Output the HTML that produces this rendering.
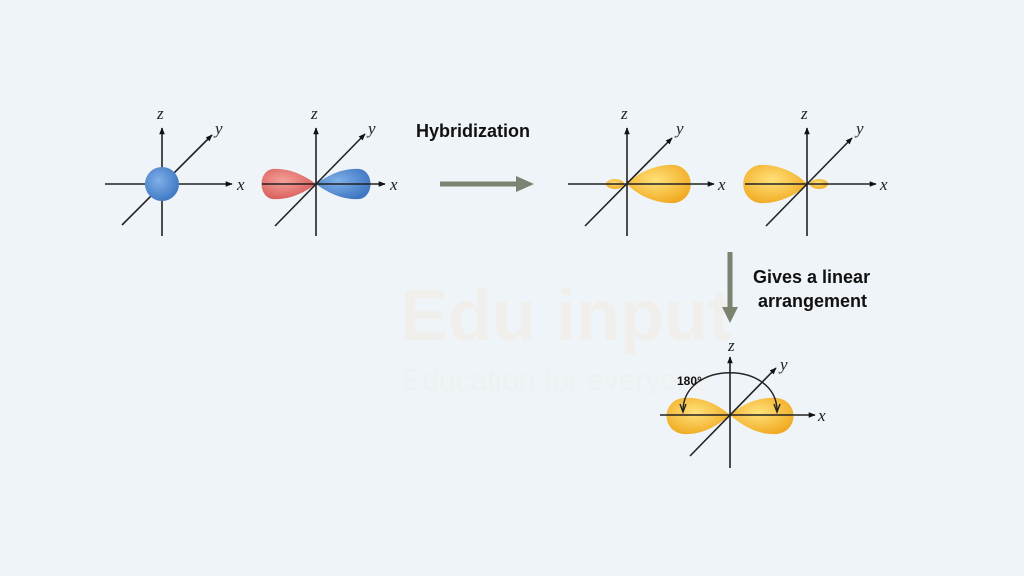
<!DOCTYPE html>
<html><head><meta charset="utf-8"><style>
body{margin:0;background:#eff4f8;}
svg{display:block}
.t{font-family:"Liberation Sans",sans-serif;font-weight:bold;fill:#111;}
.ax{font-family:"Liberation Serif",serif;font-style:italic;font-size:17px;fill:#222;}
</style></head><body>
<svg width="1024" height="576" viewBox="0 0 1024 576" xmlns="http://www.w3.org/2000/svg">
<defs>
<marker id="a" viewBox="0 0 10 10" refX="9" refY="5" markerWidth="7" markerHeight="7" orient="auto-start-reverse" markerUnits="userSpaceOnUse"><path d="M0,1 L10,5 L0,9 Z" fill="#111"/></marker>
<radialGradient id="bl" cx="40%" cy="40%" r="65%"><stop offset="0" stop-color="#7fb0e8"/><stop offset="1" stop-color="#3e76c2"/></radialGradient>
<radialGradient id="rd" cx="40%" cy="40%" r="65%"><stop offset="0" stop-color="#f4a09a"/><stop offset="1" stop-color="#d95b58"/></radialGradient>
<radialGradient id="yl" cx="45%" cy="40%" r="65%"><stop offset="0" stop-color="#ffe27a"/><stop offset="1" stop-color="#f0a820"/></radialGradient>
</defs>
<!-- watermark -->
<text x="400" y="340" font-family="Liberation Sans,sans-serif" font-weight="bold" font-size="72" fill="#f1efec">Edu input</text>
<text x="402" y="390" font-family="Liberation Sans,sans-serif" font-size="30" fill="#eff0f0">Education for everyone</text>

<g stroke="#222" stroke-width="1.6" fill="none">
<line x1="105" y1="184" x2="232" y2="184" marker-end="url(#a)"/>
<line x1="162" y1="236" x2="162" y2="128" marker-end="url(#a)"/>
<line x1="122" y1="225" x2="212" y2="135" marker-end="url(#a)"/>
</g>
<circle cx="162" cy="184" r="17" fill="url(#bl)"/>
<text class="ax" x="237" y="190">x</text><text class="ax" x="215" y="134">y</text><text class="ax" x="157" y="119">z</text>

<path d="M316,184 C300,172 285,168 272,169 C258,172 258,196 272,199 C285,200 300,196 316,184Z" fill="url(#rd)"/>
<path d="M316,184 C332,172 347,168 360,169 C374,172 374,196 360,199 C347,200 332,196 316,184Z" fill="url(#bl)"/>
<g stroke="#222" stroke-width="1.6" fill="none">
<line x1="262" y1="184" x2="385" y2="184" marker-end="url(#a)"/>
<line x1="316" y1="236" x2="316" y2="128" marker-end="url(#a)"/>
<line x1="275" y1="226" x2="365" y2="134" marker-end="url(#a)"/>
</g>
<text class="ax" x="390" y="190">x</text><text class="ax" x="368" y="134">y</text><text class="ax" x="311" y="119">z</text>

<text class="t" x="416" y="137" font-size="18">Hybridization</text>
<line x1="440" y1="184" x2="518" y2="184" stroke="#7b8270" stroke-width="5"/>
<path d="M516,176 L534,184 L516,192Z" fill="#7b8270"/>

<path d="M627,184 C640,170 660,164 675,165 C696,169 696,199 675,203 C660,204 640,198 627,184Z" fill="url(#yl)"/>
<ellipse cx="615" cy="184" rx="9" ry="5" fill="url(#yl)"/>
<g stroke="#222" stroke-width="1.6" fill="none">
<line x1="568" y1="184" x2="714" y2="184" marker-end="url(#a)"/>
<line x1="627" y1="236" x2="627" y2="128" marker-end="url(#a)"/>
<line x1="585" y1="226" x2="672" y2="138" marker-end="url(#a)"/>
</g>
<text class="ax" x="718" y="190">x</text><text class="ax" x="676" y="134">y</text><text class="ax" x="621" y="119">z</text>

<path d="M807,184 C794,170 774,164 759,165 C738,169 738,199 759,203 C774,204 794,198 807,184Z" fill="url(#yl)"/>
<ellipse cx="819" cy="184" rx="9" ry="5" fill="url(#yl)"/>
<g stroke="#222" stroke-width="1.6" fill="none">
<line x1="745" y1="184" x2="876" y2="184" marker-end="url(#a)"/>
<line x1="807" y1="236" x2="807" y2="128" marker-end="url(#a)"/>
<line x1="766" y1="226" x2="852" y2="138" marker-end="url(#a)"/>
</g>
<text class="ax" x="880" y="190">x</text><text class="ax" x="856" y="134">y</text><text class="ax" x="801" y="119">z</text>

<line x1="730" y1="252" x2="730" y2="310" stroke="#7b8270" stroke-width="5"/>
<path d="M722,307 L730,323 L738,307Z" fill="#7b8270"/>
<text class="t" x="753" y="283" font-size="18">Gives a linear</text>
<text class="t" x="758" y="307" font-size="18">arrangement</text>

<path d="M730,415 C715,402 700,397 683,398 C661,401 661,431 683,434 C700,435 715,428 730,415Z" fill="url(#yl)"/>
<path d="M730,415 C745,402 760,397 777,398 C799,401 799,431 777,434 C760,435 745,428 730,415Z" fill="url(#yl)"/>
<g stroke="#222" stroke-width="1.6" fill="none">
<line x1="660" y1="415" x2="815" y2="415" marker-end="url(#a)"/>
<line x1="730" y1="468" x2="730" y2="357" marker-end="url(#a)"/>
<line x1="690" y1="456" x2="776" y2="368" marker-end="url(#a)"/>
<path d="M683,411 C683,360 777,360 777,411" stroke-width="1.4"/>
<path d="M686,404 L683,412 L680,404" stroke-width="1.4"/>
<path d="M780,404 L777,412 L774,404" stroke-width="1.4"/>
</g>
<text class="ax" x="818" y="421">x</text><text class="ax" x="780" y="370">y</text><text class="ax" x="728" y="351">z</text>
<text class="t" x="677" y="385" font-size="12">180°</text>
</svg>
</body></html>
